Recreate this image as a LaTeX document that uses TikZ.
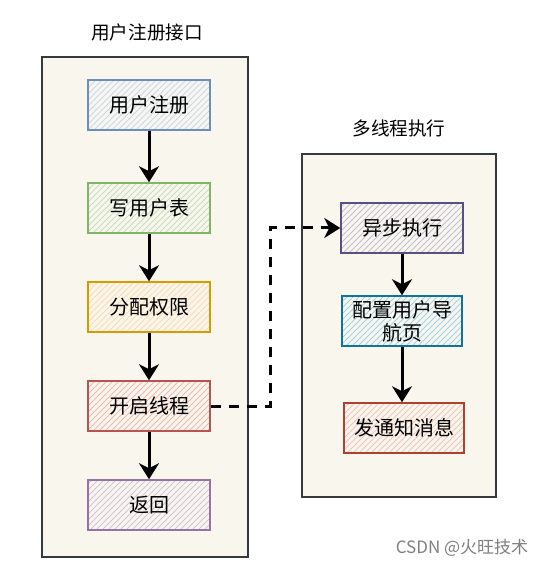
\documentclass[tikz,border=0pt]{standalone}
\usepackage{fontspec}
\setmainfont{Noto Sans CJK SC}
\usetikzlibrary{patterns,arrows.meta}
\definecolor{panelfill}{HTML}{F9F7ED}
\definecolor{panelline}{HTML}{36393D}
\definecolor{blueline}{HTML}{6C8EBF}\definecolor{bluefill}{HTML}{C6D8F2}
\definecolor{greenline}{HTML}{82B366}\definecolor{greenfill}{HTML}{C3DFC0}
\definecolor{orangeline}{HTML}{D79B00}\definecolor{orangefill}{HTML}{FFD9B0}
\definecolor{redline}{HTML}{B85450}\definecolor{redfill}{HTML}{F2B8B5}
\definecolor{purpleline}{HTML}{9673A6}\definecolor{purplefill}{HTML}{D6C4DE}
\definecolor{darkline}{HTML}{56517E}\definecolor{darkfill}{HTML}{C2BFDB}
\definecolor{tealline}{HTML}{10739E}\definecolor{tealfill}{HTML}{A0D4EC}
\definecolor{rustline}{HTML}{AE4132}\definecolor{rustfill}{HTML}{F5C4BE}
\begin{document}
\begin{tikzpicture}[x=0.5pt,y=-0.5pt,
		every node/.style={font=\fontsize{10}{11.5}\selectfont},
		step box/.style={draw,line width=0.75pt,minimum width=61pt,minimum height=25pt,inner sep=1pt,align=center},
		flow/.style={line width=1.5pt,-{Stealth[length=8pt,width=10pt,inset=2.5pt]}},
		hatch/.style 2 args={step box,draw=#1,pattern=north east lines,pattern color=#2}]
			\useasboundingbox (0,0) rectangle (547,566);
			\fill[white] (0,0) rectangle (547,566);
			\draw[panelline,fill=panelfill,line width=0.6pt] (42,57) rectangle (248,557);
			\draw[panelline,fill=panelfill,line width=0.6pt] (302,154) rectangle (496,497);
			\node[font=\fontsize{9.3}{11}\selectfont](t1) at (147,32){用户注册接口};
			\node[font=\fontsize{9.3}{11}\selectfont](t2) at (399,128){多线程执行};
			\node[hatch={blueline}{bluefill}](reg) at (149,105){用户注册};
			\node[hatch={greenline}{greenfill}](tbl) at (149,208){写用户表};
			\node[hatch={orangeline}{orangefill}](perm) at (149,307){分配权限};
			\node[hatch={redline}{redfill}](thr) at (149,406){开启线程};
			\node[hatch={purpleline}{purplefill}](ret) at (149,505){返回};
			\node[hatch={darkline}{darkfill}](async) at (402,228){异步执行};
			\node[hatch={tealline}{tealfill},minimum width=60pt](nav) at (402,321){配置用户导\\航页};
			\node[hatch={rustline}{rustfill},minimum width=60pt](note) at (404,428){发通知消息};
			\node[gray,font=\fontsize{8.5}{10}\selectfont](mark) at (462,548){CSDN @火旺技术};
			\draw[flow] (reg)--(tbl);
			\draw[flow] (tbl)--(perm);
			\draw[flow] (perm)--(thr);
			\draw[flow] (thr)--(ret);
			\draw[flow] (async)--(nav);
			\draw[flow] (nav.south)--(nav.south|-note.north);
			\draw[flow,dash pattern=on 5pt off 4pt] (thr.east)-|(270,228)--(async.west);
		\end{tikzpicture}
\end{document}
